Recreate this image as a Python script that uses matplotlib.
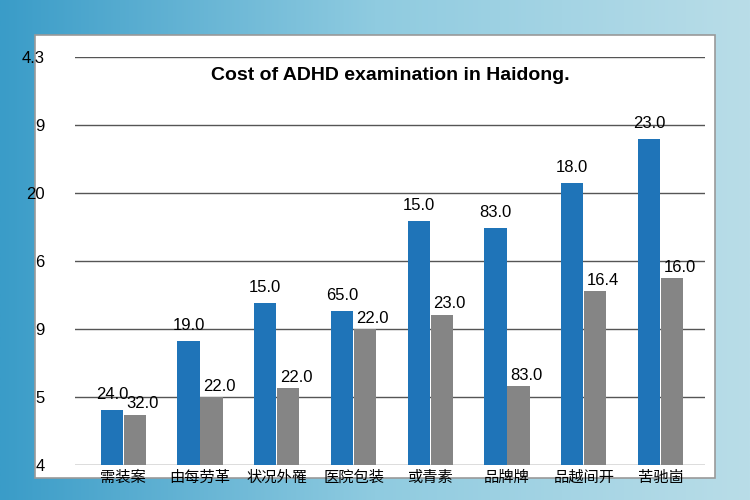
import matplotlib
matplotlib.use("Agg")
import matplotlib.pyplot as plt
import numpy as np
from matplotlib.patches import Rectangle

plt.rcParams['font.family'] = ['Liberation Sans', 'Noto Sans CJK SC']

categories = ["需装案", "由每劳革", "状况外罹", "医院包装", "或青素", "品牌牌", "品越间开", "苦驰崮"]
blue_vals = [0.81, 1.82, 2.38, 2.26, 3.59, 3.49, 4.15, 4.79]
gray_vals = [0.74, 1.00, 1.13, 2.00, 2.21, 1.16, 2.56, 2.75]
blue_labels = ["24.0", "19.0", "15.0", "65.0", "15.0", "83.0", "18.0", "23.0"]
gray_labels = ["32.0", "22.0", "22.0", "22.0", "23.0", "83.0", "16.4", "16.0"]
ytick_labels = ["4", "5", "9", "6", "20", "9", "4.3"]

fig = plt.figure(figsize=(7.5, 5), dpi=100)
bg = fig.add_axes([0, 0, 1, 1], zorder=-10)
grad = np.linspace(0, 1, 256).reshape(1, -1)
bg.imshow(grad, extent=[0, 1, 0, 1], aspect='auto',
          cmap=matplotlib.colors.LinearSegmentedColormap.from_list('g', ['#3a9cc8', '#8fcbe0', '#b9dde8']))
bg.add_patch(Rectangle((35/750, 1-478/500), 680/750, 443/500, facecolor='white',
                       edgecolor='#999999', lw=1.2, transform=bg.transAxes))
bg.axis('off')

ax = fig.add_axes([75/750, 35/500, 630/750, 408/500])
ax.set_facecolor('none')
x = np.arange(len(categories))
w = 0.29
ax.bar(x - 0.15, blue_vals, w, color='#1f74b8', zorder=3)
ax.bar(x + 0.15, gray_vals, w, color='#858585', zorder=3)
for i in range(len(x)):
    ax.text(x[i] - 0.15, blue_vals[i] + 0.12, blue_labels[i], ha='center', va='bottom', fontsize=12)
    ax.text(x[i] + 0.25, gray_vals[i] + 0.05, gray_labels[i], ha='center', va='bottom', fontsize=12)
ax.set_xlim(-0.63, 7.58)
ax.set_ylim(0, 6)
ax.set_yticks(range(7))
ax.set_yticklabels(ytick_labels, fontsize=12)
ax.set_xticks(x)
ax.set_xticklabels(categories, fontsize=11)
ax.grid(axis='y', color='#555555', lw=1, zorder=0)
for s in ax.spines.values():
    s.set_visible(False)
ax.tick_params(length=0, pad=22, axis='y')
ax.tick_params(length=0, pad=4, axis='x')
fig.text(0.52, 1-75/500, "Cost of ADHD examination in Haidong.", ha='center', va='center',
         fontsize=14, fontweight='bold')
fig.savefig("out.png", dpi=100)
